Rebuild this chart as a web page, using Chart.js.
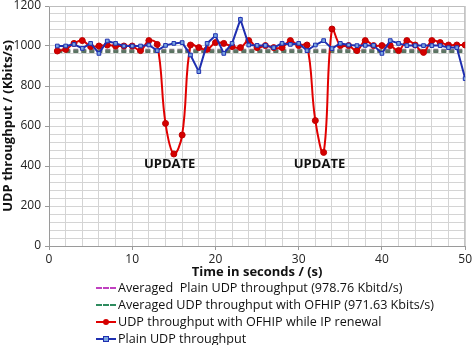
<!DOCTYPE html>
<html>
<head>
<meta charset="utf-8">
<script src="https://cdn.jsdelivr.net/npm/chart.js@4.4.1/dist/chart.umd.min.js"></script>
<style>
  html, body { margin: 0; padding: 0; background: #fff; }
  #wrap { position: relative; width: 474px; height: 345px; overflow: hidden; }
  #box { position: absolute; left: 0; top: 0; width: 474px; height: 280px; }
  #legend { position: absolute; left: 96px; top: 279px; font-family: 'Open Sans', sans-serif; font-size: 12.6px; color: #111; }
  .item { height: 17px; line-height: 17px; white-space: pre; display: flex; align-items: center; }
  .mk { position: relative; width: 22px; height: 17px; flex: none; }
  .dash { position: absolute; left: 0; top: 8px; width: 20px; height: 0; border-top: 2px dashed; }
  .ln { position: absolute; left: 0; top: 7.5px; width: 20px; height: 2px; }
  .dot { position: absolute; left: 7px; top: 5.5px; width: 6px; height: 6px; border-radius: 50%; }
  .sq { position: absolute; left: 7px; top: 5.5px; width: 4px; height: 4px; border: 1px solid #1f2fb0; background: #7aa6e0; }
</style>
</head>
<body>
<div id="wrap">
  <div id="box"><canvas id="c"></canvas></div>
  <div id="legend"></div>
</div>
<script>
// ---- data ----
const seconds = [1,2,3,4,5,6,7,8,9,10,11,12,13,14,15,16,17,18,19,20,21,22,23,24,25,26,27,28,29,30,31,32,33,34,35,36,37,38,39,40,41,42,43,44,45,46,47,48,49,50];
const plainUdp = [1000,1000,1008,988,1013,963,1025,1013,1000,1000,1000,1005,977,1003,1013,1017,955,872,1013,1052,963,1013,1133,1005,1003,1003,992,1013,1008,1013,977,1005,1027,987,1013,1005,1002,1003,1003,963,1027,1013,1002,1002,1002,1002,1002,992,992,837];
const ofhipUdp = [975,983,1013,1027,997,1000,1005,1000,1000,1000,977,1027,1008,613,460,555,1005,992,983,1017,1013,997,992,1027,992,1002,992,992,1027,1002,1005,627,468,1085,1002,1002,977,1027,1002,1002,1002,977,1027,1005,968,1027,1017,1005,1005,1005];
const avgPlain = 978.76;
const avgOfhip = 971.63;
const xRange = [0, 50];
const yRange = [0, 1200];
const annotations = [ {x: 14.5, y: 410, text: 'UPDATE'}, {x: 32.5, y: 410, text: 'UPDATE'} ];
const legendLabels = [
  'Averaged  Plain UDP throughput (978.76 Kbitd/s)',
  'Averaged UDP throughput with OFHIP (971.63 Kbits/s)',
  'UDP throughput with OFHIP while IP renewal',
  'Plain UDP throughput'
];
const xTitle = 'Time in seconds / (s)';
const yTitle = 'UDP throughput / (Kbits/s)';

// ---- build ----
const pts = (vals) => vals.map((v, i) => ({x: seconds[i], y: v}));
const flat = (v) => [{x: xRange[0] + 1, y: v}, {x: xRange[1], y: v}];

const annotPlugin = {
  id: 'annot',
  afterDatasetsDraw(chart) {
    const {ctx, scales} = chart;
    ctx.save();
    ctx.font = 'bold 13px "Open Sans", sans-serif';
    ctx.fillStyle = '#111';
    ctx.textAlign = 'center';
    ctx.textBaseline = 'middle';
    annotations.forEach(a => ctx.fillText(a.text, scales.x.getPixelForValue(a.x), scales.y.getPixelForValue(a.y)));
    ctx.restore();
  }
};
const borderPlugin = {
  id: 'border',
  beforeDatasetsDraw(chart) {
    const {ctx, chartArea: a} = chart;
    ctx.save();
    ctx.strokeStyle = '#bdbdbd';
    ctx.lineWidth = 1;
    ctx.beginPath();
    ctx.moveTo(a.left, a.top + 0.5); ctx.lineTo(a.right - 0.5, a.top + 0.5); ctx.lineTo(a.right - 0.5, a.bottom);
    ctx.stroke();
    ctx.restore();
  }
};

new Chart(document.getElementById('c'), {
  type: 'line',
  data: {
    datasets: [
      { label: legendLabels[0], data: flat(avgPlain), borderColor: '#857d85', borderDash: [5, 3], borderWidth: 2.8, pointRadius: 0, order: 4 },
      { label: legendLabels[1], data: flat(avgOfhip), borderColor: '#5a7462', borderDash: [5, 3], borderWidth: 2.8, pointRadius: 0, order: 3 },
      { label: legendLabels[2], data: pts(ofhipUdp), borderColor: '#e10000', backgroundColor: '#d40000', borderWidth: 2, tension: 0.4, pointRadius: 3, pointBorderWidth: 1, pointBorderColor: '#c00000', order: 2 },
      { label: legendLabels[3], data: pts(plainUdp), borderColor: '#1f2fb0', backgroundColor: '#7aa6e0', borderWidth: 2, tension: 0, pointStyle: 'rect', pointRadius: 2.6, pointBorderWidth: 1, pointBorderColor: '#1f2fb0', order: 1 }
    ]
  },
  options: {
    responsive: true,
    maintainAspectRatio: false,
    animation: false,
    layout: { padding: { top: 6, right: 8, left: 0, bottom: 0 } },
    plugins: { legend: { display: false }, tooltip: { enabled: false } },
    scales: {
      x: {
        type: 'linear', min: xRange[0], max: xRange[1],
        afterFit: (s) => { s.height = 34; },
        ticks: { stepSize: 2, autoSkip: false, maxRotation: 0, padding: 2, color: '#222', font: { family: 'Open Sans', size: 12 },
                 callback: (v) => (v % 10 === 0 ? String(v) : '') },
        grid: { color: '#d4d4d4', lineWidth: 1, drawTicks: true, tickLength: 4, tickColor: (c) => (c.tick && c.tick.value % 10 === 0 ? '#9a9a9a' : 'rgba(0,0,0,0)') },
        border: { color: '#9a9a9a' },
        title: { display: true, text: xTitle, color: '#111', font: { family: 'Open Sans', size: 13, weight: 'bold' }, padding: { top: -1, bottom: 0 } }
      },
      y: {
        min: yRange[0], max: yRange[1],
        afterFit: (s) => { s.width = 49; s.paddingTop = 0; s.paddingBottom = 0; },
        ticks: { stepSize: 40, autoSkip: false, padding: 4, color: '#222', font: { family: 'Open Sans', size: 12 },
                 callback: (v) => (v % 200 === 0 ? String(v) : '') },
        grid: { color: '#d4d4d4', lineWidth: 1, tickLength: 4, tickColor: (c) => (c.tick && c.tick.value % 200 === 0 ? '#9a9a9a' : 'rgba(0,0,0,0)') },
        border: { color: '#9a9a9a' },
        title: { display: true, text: yTitle, color: '#111', font: { family: 'Open Sans', size: 13, weight: 'bold' }, padding: { top: 0, bottom: 0 } }
      }
    }
  },
  plugins: [borderPlugin, annotPlugin]
});

// ---- HTML legend ----
const legendMarks = [
  '<span class="mk"><span class="dash" style="border-color:#c040c0"></span></span>',
  '<span class="mk"><span class="dash" style="border-color:#2e8b5e"></span></span>',
  '<span class="mk"><span class="ln" style="background:#e10000"></span><span class="dot" style="background:#d40000"></span></span>',
  '<span class="mk"><span class="ln" style="background:#1f2fb0"></span><span class="sq"></span></span>'
];
document.getElementById('legend').innerHTML = legendLabels.map((t, i) => '<div class="item">' + legendMarks[i] + '<span>' + t + '</span></div>').join('');
</script>
</body>
</html>
